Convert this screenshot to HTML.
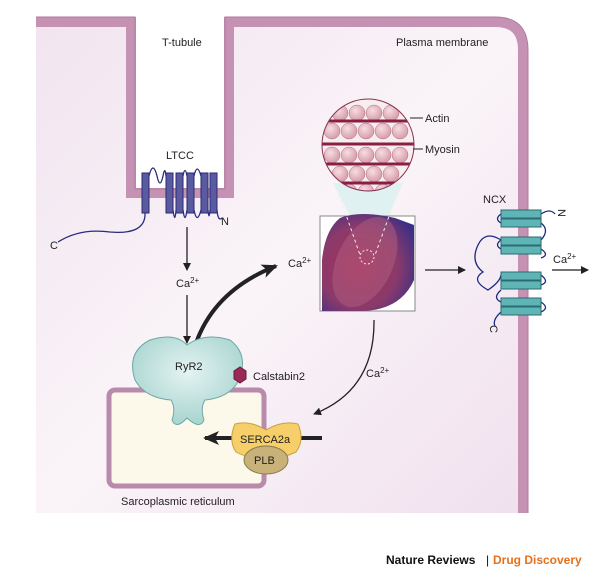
<!DOCTYPE html>
<html><head><meta charset="utf-8"><style>
html,body{margin:0;padding:0;background:#fff}
svg{display:block}
text{font-family:"Liberation Sans",sans-serif;fill:#222}
</style></head><body>
<svg width="600" height="582" viewBox="0 0 600 582" xmlns="http://www.w3.org/2000/svg">
<defs>
<linearGradient id="cell" x1="0" y1="0" x2="1" y2="1"><stop offset="0" stop-color="#f1e4ef"/><stop offset="0.5" stop-color="#faf4f8"/><stop offset="1" stop-color="#f0e0ee"/></linearGradient>
<radialGradient id="ryr" cx="0.5" cy="0.4" r="0.6"><stop offset="0" stop-color="#e4f3f1"/><stop offset="1" stop-color="#a8d4d0"/></radialGradient>
<radialGradient id="heart" cx="0.4" cy="0.55" r="0.7"><stop offset="0" stop-color="#a8305a"/><stop offset="0.6" stop-color="#8a3a6a"/><stop offset="1" stop-color="#3a2e88"/></radialGradient>
<radialGradient id="ball" cx="0.4" cy="0.35" r="0.6"><stop offset="0" stop-color="#f6dde2"/><stop offset="1" stop-color="#d9a1ae"/></radialGradient>
<clipPath id="circ"><circle cx="368" cy="145" r="46"/></clipPath>
<marker id="ah" markerWidth="8" markerHeight="8" refX="7" refY="4" orient="auto" markerUnits="userSpaceOnUse"><path d="M0,0 L8,4 L0,8 z" fill="#222"/></marker>
<marker id="ahb" markerWidth="16" markerHeight="14" refX="14" refY="7" orient="auto" markerUnits="userSpaceOnUse"><path d="M0,0 L16,7 L0,14 L4,7 z" fill="#222"/></marker>
</defs>
<!-- cell -->
<path d="M36,17 H135 V189 H225 V17 H495 Q528,17 528,50 V513 H36 Z" fill="url(#cell)"/>
<!-- membrane -->
<path d="M36,22 H131 V193 H229 V22 H495 Q523,22 523,50 V513" fill="none" stroke="#c592b4" stroke-width="10"/>
<path d="M36,17 H135 V189 H225 V17 H495 Q528,17 528,50 V513" fill="none" stroke="#b07a9e" stroke-width="1"/>
<text x="162" y="46" font-size="11">T-tubule</text>
<text x="396" y="46" font-size="11">Plasma membrane</text>
<!-- LTCC -->
<text x="166" y="159" font-size="11">LTCC</text>
<g fill="#5a5aa0" stroke="#2a2a70" stroke-width="1">
<rect x="142" y="173" width="7" height="40"/><rect x="166" y="173" width="7" height="40"/><rect x="176" y="173" width="7" height="40"/><rect x="187" y="173" width="7" height="40"/><rect x="201" y="173" width="7" height="40"/><rect x="210" y="173" width="7" height="40"/>
</g>
<path d="M149,176 Q153,160 157,176 Q160,190 163,176 Q165,165 166,176 M183,176 Q185,165 187,176 M194,176 Q197,162 201,176 M173,210 Q175,225 176,210 M183,210 Q185,225 187,210 M194,210 Q197,225 201,210 M208,210 Q209,222 210,210 M217,210 Q218,222 222,218 M145,213 Q146,235 110,232 Q80,228 58,242" fill="none" stroke="#2a2a80" stroke-width="1.3"/>
<text x="221" y="225" font-size="11">N</text>
<text x="50" y="249" font-size="11">C</text>
<!-- arrows -->
<line x1="187" y1="227" x2="187" y2="270" stroke="#222" stroke-width="1.3" marker-end="url(#ah)"/>
<text x="176" y="287" font-size="11">Ca<tspan font-size="8" dy="-4">2+</tspan></text>
<line x1="187" y1="295" x2="187" y2="343" stroke="#222" stroke-width="1.3" marker-end="url(#ah)"/>
<path d="M196,343 Q215,290 276,266" fill="none" stroke="#222" stroke-width="4" marker-end="url(#ahb)"/>
<text x="288" y="267" font-size="11">Ca<tspan font-size="8" dy="-4">2+</tspan></text>
<!-- SR -->
<rect x="109" y="390" width="155" height="96" rx="6" fill="#fdf9ea" stroke="#b88aac" stroke-width="5"/>
<text x="121" y="505" font-size="11">Sarcoplasmic reticulum</text>
<!-- RyR2 -->
<path d="M150,340 Q175,332 187,345 Q205,332 230,340 Q250,355 238,382 Q228,398 205,400 Q200,408 204,420 Q200,430 187,418 Q176,430 172,420 Q176,408 171,400 Q145,398 135,380 Q126,352 150,340 Z" fill="url(#ryr)" stroke="#6aa8a4" stroke-width="1"/>
<text x="175" y="370" font-size="11">RyR2</text>
<polygon points="240,367 246,371 246,379 240,383 234,379 234,371" fill="#9a2a55" stroke="#6a1a3a"/>
<text x="253" y="380" font-size="11">Calstabin2</text>
<!-- SERCA -->
<line x1="322" y1="438" x2="205" y2="438" stroke="#222" stroke-width="4" marker-end="url(#ahb)"/>
<path d="M235,424 Q250,420 266,430 Q282,420 298,424 Q305,440 296,452 Q280,460 266,456 Q250,460 236,452 Q228,440 235,424 Z" fill="#f6cf6a" stroke="#c9a040"/>
<text x="240" y="443" font-size="11">SERCA2a</text>
<ellipse cx="266" cy="460" rx="22" ry="14" fill="#c8b27a" stroke="#8a7a4a"/>
<text x="254" y="464" font-size="11">PLB</text>
<!-- Ca curve -->
<path d="M374,320 Q375,390 314,414" fill="none" stroke="#222" stroke-width="1.3" marker-end="url(#ah)"/>
<text x="366" y="377" font-size="11">Ca<tspan font-size="8" dy="-4">2+</tspan></text>
<!-- heart box & zoom -->
<polygon points="333,183 403,183 388,216 350,216" fill="#dff1f1"/>
<rect x="320" y="216" width="95" height="95" fill="#fff" stroke="#888"/>
<path d="M340,218 Q360,210 395,218 L414,225 V280 Q400,311 360,311 L322,311 V260 Q325,230 340,218 Z" fill="url(#heart)"/>
<ellipse cx="365" cy="262" rx="28" ry="48" transform="rotate(25 365 262)" fill="#b06080" opacity="0.5"/>
<path d="M335,183 L360,255 M401,183 L375,255" stroke="#eee" stroke-dasharray="3,3" fill="none"/>
<circle cx="367" cy="257" r="7" fill="none" stroke="#eee" stroke-dasharray="2,2"/>
<g clip-path="url(#circ)">
<rect x="320" y="98" width="100" height="96" fill="#f7eef0"/>
<g fill="url(#ball)" stroke="#b07080" stroke-width="0.5">
<circle cx="340" cy="113" r="8"/><circle cx="357" cy="113" r="8"/><circle cx="374" cy="113" r="8"/><circle cx="391" cy="113" r="8"/>
<circle cx="332" cy="131" r="8"/><circle cx="349" cy="131" r="8"/><circle cx="366" cy="131" r="8"/><circle cx="383" cy="131" r="8"/><circle cx="400" cy="131" r="8"/>
<circle cx="332" cy="155" r="8"/><circle cx="349" cy="155" r="8"/><circle cx="366" cy="155" r="8"/><circle cx="383" cy="155" r="8"/><circle cx="400" cy="155" r="8"/>
<circle cx="340" cy="174" r="8"/><circle cx="357" cy="174" r="8"/><circle cx="374" cy="174" r="8"/><circle cx="391" cy="174" r="8"/>
<circle cx="349" cy="192" r="8"/><circle cx="366" cy="192" r="8"/><circle cx="383" cy="192" r="8"/>
</g>
<g stroke="#8a1f45" stroke-width="3"><line x1="320" y1="121" x2="416" y2="121"/><line x1="320" y1="144" x2="416" y2="144"/><line x1="320" y1="164" x2="416" y2="164"/><line x1="320" y1="183" x2="416" y2="183"/></g>
</g>
<circle cx="368" cy="145" r="46" fill="none" stroke="#8a3050" stroke-width="1"/>
<line x1="410" y1="118" x2="423" y2="118" stroke="#222"/><text x="425" y="122" font-size="11">Actin</text>
<line x1="413" y1="149" x2="423" y2="149" stroke="#222"/><text x="425" y="153" font-size="11">Myosin</text>
<!-- NCX -->
<line x1="425" y1="270" x2="465" y2="270" stroke="#222" stroke-width="1.3" marker-end="url(#ah)"/>
<text x="483" y="203" font-size="11">NCX</text>
<path d="M501,214 Q494,219 501,223 M541,214 Q550,208 555,214 M541,223 Q550,230 541,240 M501,240 Q494,245 501,249 M541,249 Q550,255 541,258 M501,240 Q485,230 478,245 Q470,262 483,272 Q470,280 488,290 Q500,282 501,275 M541,275 Q550,282 541,285 M501,290 Q492,298 501,302 M541,302 Q550,308 541,312 M501,312 Q492,320 495,326" fill="none" stroke="#1a2a80" stroke-width="1.3"/>
<g fill="#5fb5b5" stroke="#2a6a70" stroke-width="1">
<rect x="501" y="210" width="40" height="8"/><rect x="501" y="219" width="40" height="8"/>
<rect x="501" y="237" width="40" height="8"/><rect x="501" y="246" width="40" height="8"/>
<rect x="501" y="272" width="40" height="8"/><rect x="501" y="281" width="40" height="8"/>
<rect x="501" y="298" width="40" height="8"/><rect x="501" y="307" width="40" height="8"/>
</g>
<text x="558" y="217" font-size="11" transform="rotate(90 562 213)">N</text>
<text x="490" y="333" font-size="11" transform="rotate(90 494 329)">C</text>
<text x="553" y="263" font-size="11">Ca<tspan font-size="8" dy="-4">2+</tspan></text>
<line x1="552" y1="270" x2="588" y2="270" stroke="#222" stroke-width="1.3" marker-end="url(#ah)"/>
<!-- footer -->
<text x="386" y="564" font-size="12" font-weight="bold" style="fill:#111">Nature Reviews</text>
<text x="486" y="564" font-size="12" style="fill:#111">|</text>
<text x="493" y="564" font-size="12" font-weight="bold" style="fill:#e8701a">Drug Discovery</text>
</svg>
</body></html>
